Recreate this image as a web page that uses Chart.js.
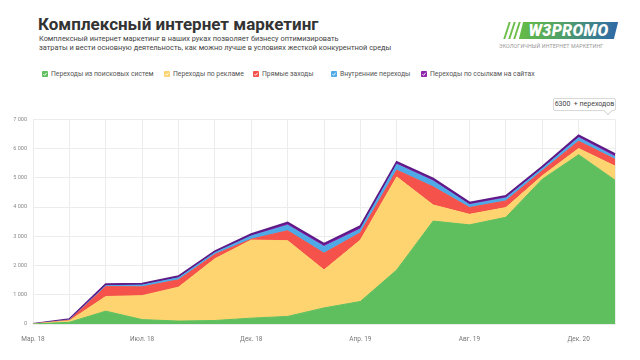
<!DOCTYPE html>
<html lang="ru">
<head>
<meta charset="utf-8">
<script src="https://cdn.jsdelivr.net/npm/chart.js@4"></script>
<style>
  body { margin: 0; width: 640px; height: 360px; background: #fff; font-family: Roboto, sans-serif; position: relative; overflow: hidden; }
  .title { position: absolute; left: 38px; top: 14px; font-size: 17px; font-weight: bold; color: #333; white-space: nowrap; }
  .sub { position: absolute; left: 39px; top: 34px; font-size: 7.4px; line-height: 9px; color: #444; white-space: nowrap; }
  .legend { position: absolute; left: 42px; top: 70px; font-size: 6.8px; color: #555; white-space: nowrap; }
  .legend span.item { position: absolute; top: 0; display: flex; align-items: center; }
  .legend svg { margin-right: 3px; }
  .logo { position: absolute; left: 500px; top: 21px; width: 120px; height: 30px; }
  .slash { position: absolute; top: 1px; width: 2px; height: 17px; background: #6cbf4a; transform: skewX(-18deg); }
  .box { position: absolute; left: 21px; top: 1px; width: 95px; height: 17px; transform: skewX(-14deg);
         background: linear-gradient(90deg, #64bb47 0%, #4f9f6a 45%, #2f6aa6 100%); }
  .box div { transform: skewX(14deg); color: #fff; font-weight: 900; font-style: italic; font-size: 16px; line-height: 17px; text-align: center; letter-spacing: 0.3px; }
  .tag { position: absolute; left: -1px; top: 22px; font-size: 5.3px; color: #999; white-space: nowrap; letter-spacing: 0.1px; }
  .tip { position: absolute; left: 553px; top: 98px; width: 61px; height: 11px; border: 1px solid #d8d8d8; border-radius: 2px; background: #fff;
         font-size: 7px; line-height: 11px; color: #444; text-align: center; white-space: nowrap; }
  .tip:after { content: ""; position: absolute; right: 4px; bottom: -4px; width: 5px; height: 5px; background: #fff;
         border-right: 1px solid #d8d8d8; border-bottom: 1px solid #d8d8d8; transform: rotate(45deg); }
  #wrap { position: absolute; left: 0; top: 110px; width: 640px; height: 250px; }
</style>
</head>
<body>
<div class="title">Комплексный интернет маркетинг</div>
<div class="sub">Комплексный интернет маркетинг в наших руках позволяет бизнесу оптимизировать<br>затраты и вести основную деятельность, как можно лучше в условиях жесткой конкурентной среды</div>
<div class="logo">
  <div class="slash" style="left:6px"></div>
  <div class="slash" style="left:11px"></div>
  <div class="slash" style="left:16px"></div>
  <div class="box"><div>W3PROMO</div></div>
  <div class="tag">ЭКОЛОГИЧНЫЙ ИНТЕРНЕТ МАРКЕТИНГ</div>
</div>
<div class="legend" id="legend"></div>
<div class="tip">6300&nbsp;&nbsp;+ переходов</div>
<div id="wrap"><canvas id="chart" width="640" height="250"></canvas></div>
<script>
const labels = ['Мар. 18', 'Апр. 18', 'Июн. 18', 'Июл. 18', 'Авг. 18', 'Окт. 18', 'Дек. 18', 'Янв. 19', 'Фев. 19',
                'Апр. 19', 'Май. 19', 'Июн. 19', 'Авг. 19', 'Сен. 19', 'Окт. 19', 'Дек. 20', 'Янв. 21'];
const search   = [0, 60, 440, 150, 100, 120, 200, 260, 550, 770, 1850, 3520, 3390, 3650, 4950, 5790, 4920];
const ads      = [0, 50, 500, 820, 1160, 2110, 2670, 2590, 1300, 2100, 3180, 550, 360, 330, 120, 210, 480];
const direct   = [0, 20, 340, 300, 250, 150, 30, 340, 570, 250, 230, 620, 230, 230, 170, 250, 230];
const internal = [0, 10, 30, 60, 70, 60, 110, 190, 230, 125, 200, 200, 100, 100, 80, 120, 90];
const links    = [0, 20, 50, 50, 50, 40, 60, 90, 90, 100, 80, 80, 70, 70, 60, 80, 90];

const series = [
    { name: 'Переходы из поисковых систем', data: search, color: '#5fbf5f', x: 0 },
    { name: 'Переходы по рекламе', data: ads, color: '#fdd46f', x: 122 },
    { name: 'Прямые заходы', data: direct, color: '#f4524a', x: 211 },
    { name: 'Внутренние переходы', data: internal, color: '#4ea9e6', x: 289 },
    { name: 'Переходы по ссылкам на сайтах', data: links, color: '#8e24aa', x: 379 }
];

// html legend with check boxes
const legend = document.getElementById('legend');
series.forEach(s => {
    const el = document.createElement('span');
    el.className = 'item';
    el.style.left = s.x + 'px';
    el.innerHTML = '<svg width="6" height="6" viewBox="0 0 10 10"><rect width="10" height="10" rx="1.5" fill="' + s.color +
        '"/><polyline points="2.3,5.2 4.3,7.2 7.8,3" fill="none" stroke="#fff" stroke-width="1.6"/></svg>' + s.name;
    legend.appendChild(el);
});

const datasets = series.map((s, i) => ({
    label: s.name,
    data: s.data,
    backgroundColor: s.color,
    borderColor: i === 4 ? '#5e1a86' : s.color,
    borderWidth: i === 4 ? 2 : 1,
    fill: i === 0 ? 'origin' : '-1',
    pointRadius: 0,
    tension: 0
}));

new Chart(document.getElementById('chart'), {
    type: 'line',
    data: { labels: labels, datasets: datasets },
    options: {
        responsive: false,
        animation: false,
        layout: { padding: { left: 0, right: 25, top: 9, bottom: 14 } },
        plugins: { legend: { display: false }, tooltip: { enabled: false } },
        scales: {
            x: {
                afterFit: s => { s.height = 22; },
                grid: { color: '#ececec', drawTicks: false },
                border: { display: false },
                ticks: {
                    autoSkip: false, maxRotation: 0, padding: 11,
                    color: '#777', font: { family: 'Roboto', size: 6.5 },
                    callback: (v, i) => (i % 3 === 0 && i < 16) ? labels[i] : ''
                }
            },
            y: {
                stacked: true,
                min: 0, max: 7000,
                afterFit: s => { s.width = 33; },
                grid: { color: '#ececec', drawTicks: false },
                border: { display: false },
                ticks: {
                    stepSize: 1000, padding: 6,
                    color: '#888', font: { family: 'Roboto', size: 5.5 },
                    callback: v => String(v).replace(/\B(?=(\d{3})+(?!\d))/g, ' ')
                }
            }
        }
    }
});
</script>
</body>
</html>
